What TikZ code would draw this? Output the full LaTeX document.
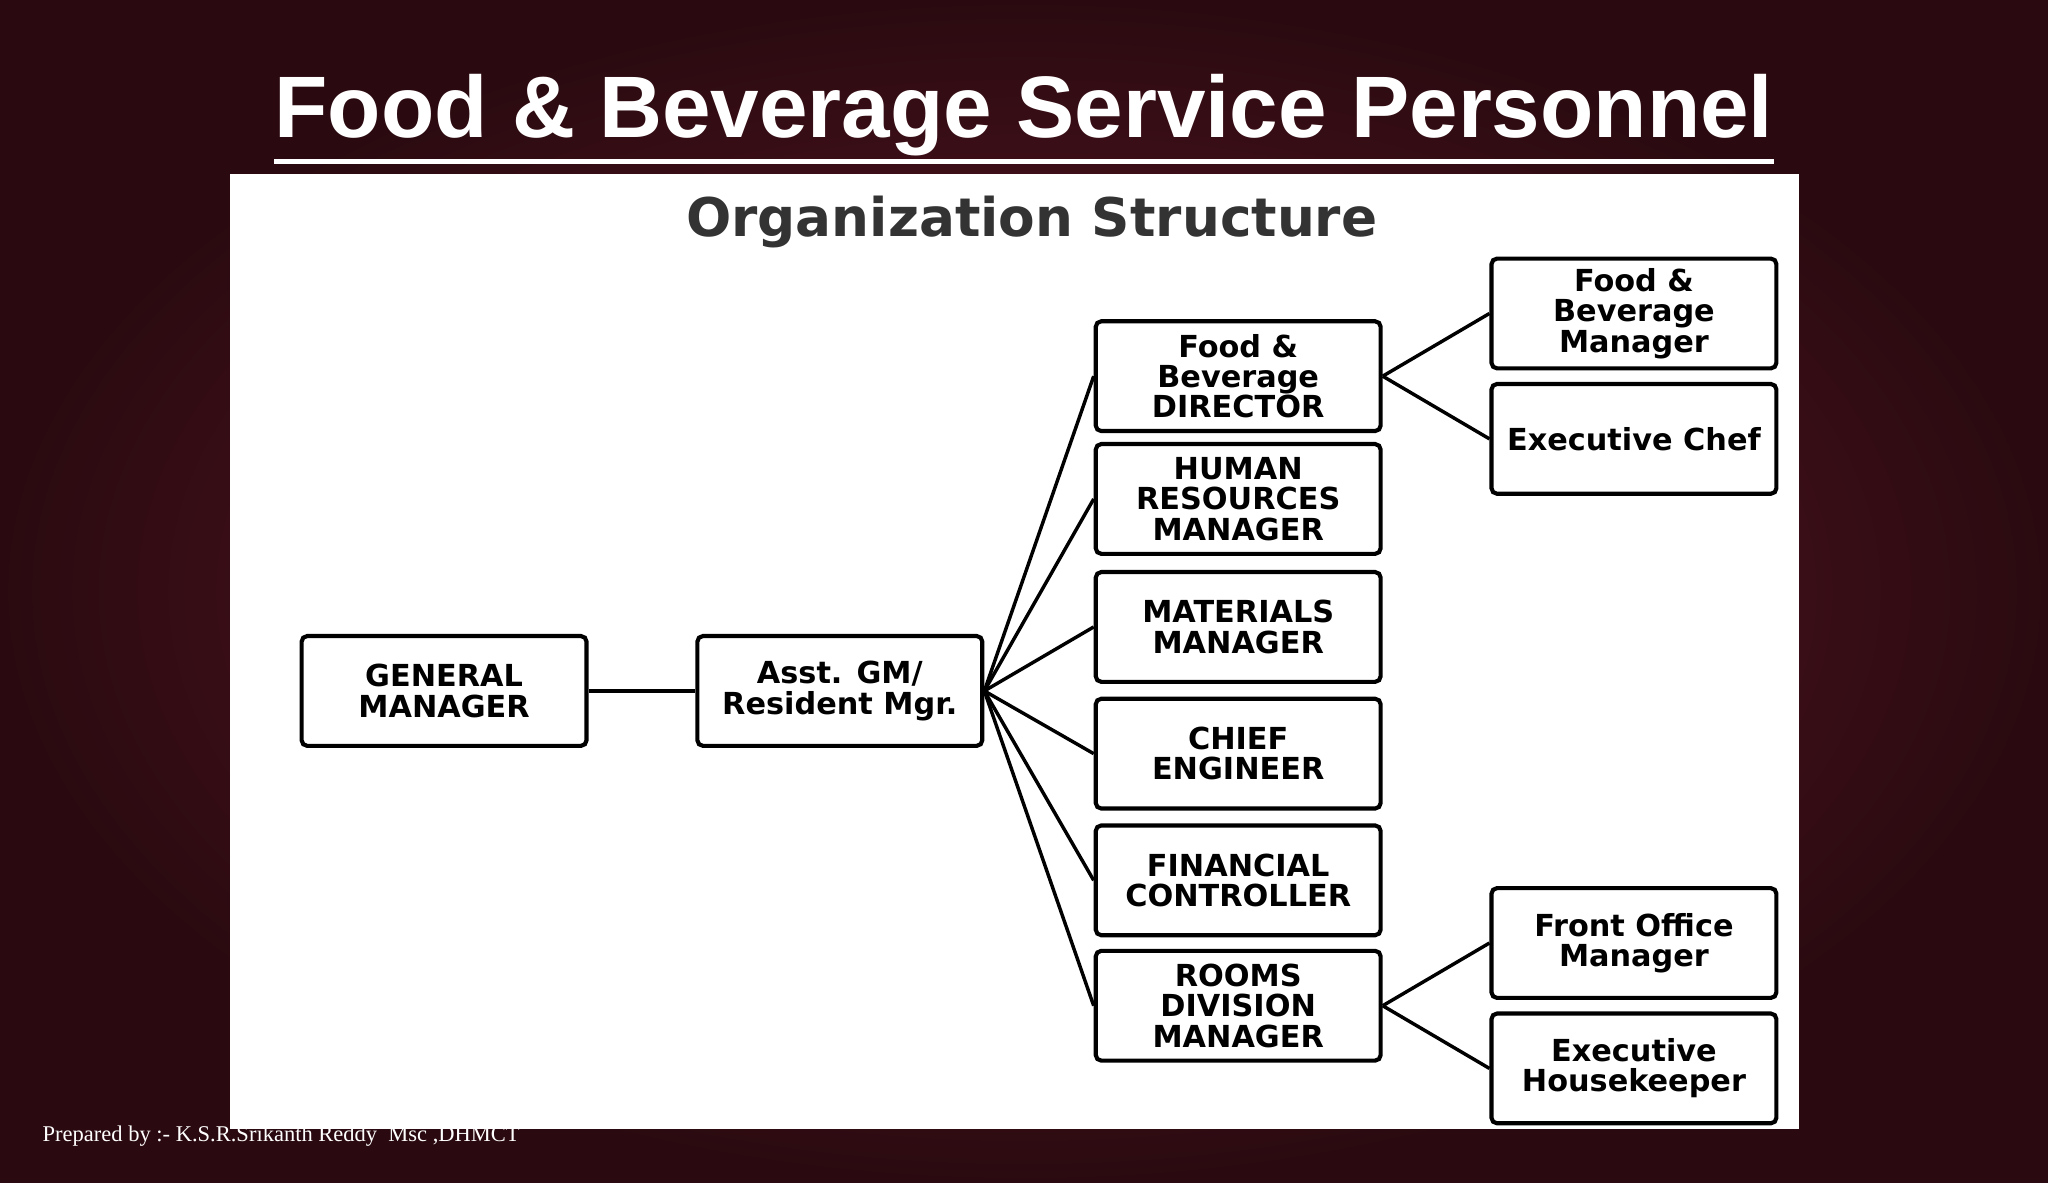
\documentclass[tikz,border=0pt]{standalone}
\usepackage{fontspec}
\setmainfont{Liberation Sans}
\newfontfamily\serifx{Liberation Serif}
\newfontfamily\boxfont{DejaVu Sans}
\definecolor{bgdark}{HTML}{2A0A10}
\definecolor{bgmid}{HTML}{6A1A2A}
\tikzset{
 box/.style={draw=black,line width=0.9pt,rounded corners=1.2pt,minimum width=2.18cm,minimum height=0.84cm,align=center,font=\boxfont\fontsize{6.6}{6.6}\selectfont\bfseries,fill=white,inner sep=0pt},
 link/.style={line width=0.75pt,black}
}
\begin{document}
\begin{tikzpicture}[x=0.01cm,y=-0.01cm]
\useasboundingbox (0,0) rectangle (1568,905);
\shade[inner color=bgmid,outer color=bgdark] (0,0) rectangle (1568,905);
\fill[white] (176,133) rectangle (1377,864);
\node[text=white,font=\fontsize{19}{21}\selectfont\bfseries] (title) at (784,88) {Food \& Beverage Service Personnel};
\draw[white,line width=1.1pt] (210,124) -- (1358,124);
\node[text=black!80,font=\boxfont\fontsize{11.6}{14}\selectfont\bfseries] (org) at (790,170) {Organization Structure};
\node[box] (gm) at (340,529) {GENERAL\\MANAGER};
\node[box] (agm) at (643,529) {Asst. GM/\\Resident Mgr.};
\node[box] (fbd) at (948,288) {Food \&\\Beverage\\DIRECTOR};
\node[box] (hr) at (948,382) {HUMAN\\RESOURCES\\MANAGER};
\node[box] (mat) at (948,480) {MATERIALS\\MANAGER};
\node[box] (ce) at (948,577) {CHIEF\\ENGINEER};
\node[box] (fc) at (948,674) {FINANCIAL\\CONTROLLER};
\node[box] (rdm) at (948,770) {ROOMS\\DIVISION\\MANAGER};
\node[box] (fbm) at (1251,240) {Food \&\\Beverage\\Manager};
\node[box] (ec) at (1251,336) {Executive Chef};
\node[box] (fom) at (1251,722) {Front Office\\Manager};
\node[box] (eh) at (1251,818) {Executive\\Housekeeper};
\draw[link] (gm.east) -- (agm.west);
\foreach \t in {fbd,hr,mat,ce,fc,rdm} \draw[link] (agm.east) -- (\t.west);
\foreach \t in {fbm,ec} \draw[link] (fbd.east) -- (\t.west);
\foreach \t in {fom,eh} \draw[link] (rdm.east) -- (\t.west);
\node[anchor=west,text=white,font=\serifx\fontsize{4.9}{5}\selectfont,inner sep=0pt] (foot) at (32,870) {Prepared by :- K.S.R.Srikanth Reddy\ \ Msc ,DHMCT};
\end{tikzpicture}
\end{document}
